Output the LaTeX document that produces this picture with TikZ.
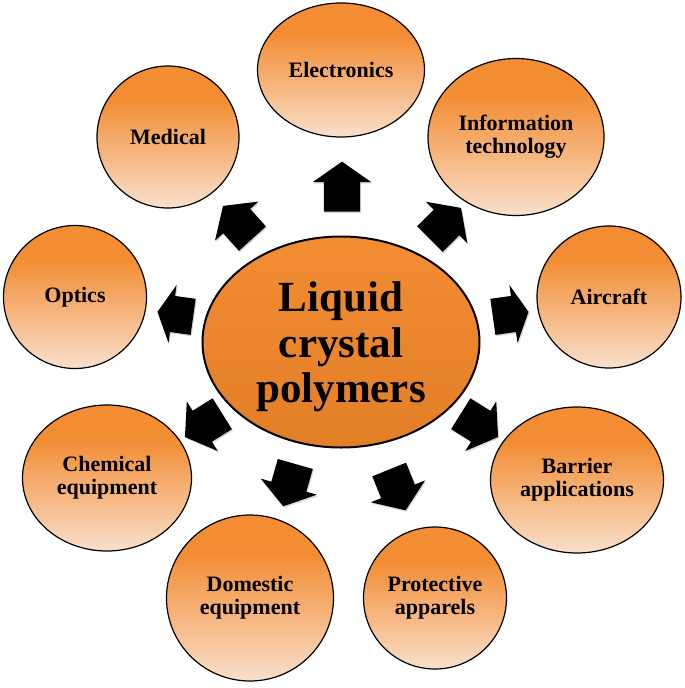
\documentclass[tikz,border=0pt]{standalone}
\usepackage{fontspec}
\setmainfont{Liberation Serif}
\usetikzlibrary{shapes.geometric,shapes.arrows,shadows}

\definecolor{lcporange}{RGB}{242,141,52}
\definecolor{lcpdark}{RGB}{226,126,38}
\definecolor{petalmid}{RGB}{246,180,124}
\definecolor{petallow}{RGB}{249,224,204}

% top to bottom fade of the outer bubbles (path spans 25bp..75bp)
\pgfdeclareverticalshading{petal}{100bp}{color(0bp)=(petallow); color(25bp)=(petallow); color(45bp)=(petalmid); color(63bp)=(lcporange); color(75bp)=(lcporange); color(100bp)=(lcporange)}

\begin{document}
\begin{tikzpicture}[x=1pt,y=-1pt]
\tikzstyle{every node}=[inner sep=0pt]
\tikzstyle{petal}=[ellipse, draw=black, line width=1.2pt, shade, shading=petal,
  align=center, font=\fontsize{22}{23}\selectfont\bfseries]
\tikzstyle{blockarrow}=[single arrow, fill=black, inner xsep=0pt, inner ysep=18pt,
  minimum height=44, single arrow head extend=11, single arrow tip angle=110,
  drop shadow={shadow xshift=1pt, shadow yshift=-1.5pt, opacity=0.3}]

\useasboundingbox (0,0) rectangle (685,688);

%
% The centre
%
\node[ellipse, draw=black, line width=2pt, minimum width=277, minimum height=211,
  top color=lcporange, middle color=lcporange, bottom color=lcpdark]
  (lcp) at (341,342) {};
\node[align=center, font=\fontsize{43}{45.5}\selectfont\bfseries]
  (lcptext) at ([yshift=-5]lcp.center) {Liquid\\crystal\\polymers};

%
% The applications, clockwise from the top
%
\node[petal, minimum width=167, minimum height=134] (elec) at (341,70) {Electronics};
\node[petal, minimum width=176, minimum height=157] (info) at (516,137) {Information\\technology};
\node[petal, minimum width=144, minimum height=142] (air) at (609,297) {Aircraft};
\node[petal, minimum width=173, minimum height=146] (barrier) at (577,480) {Barrier\\applications};
\node[petal, minimum width=143, minimum height=142] (prot) at (435,598) {Protective\\apparels};
\node[petal, minimum width=167, minimum height=166] (dom) at (250,598) {Domestic\\equipment};
\node[petal, minimum width=169, minimum height=146] (chem) at (107,478) {Chemical\\equipment};
\node[petal, minimum width=143, minimum height=143] (optics) at (75,297) {Optics};
\node[petal, minimum width=142, minimum height=142] (med) at (168,137) {Medical};

%
% The block arrows pointing outwards
%
\node[blockarrow, minimum height=50, rotate=90] (toelec) at (342,193) {};
\node[blockarrow, rotate=45] (toinfo) at (441,228) {};
\node[blockarrow, minimum height=36, single arrow tip angle=125, rotate=8] (toair) at (506,315) {};
\node[blockarrow, rotate=-32] (tobarrier) at (474,422) {};
\node[blockarrow, rotate=-68] (toprot) at (395,484) {};
\node[blockarrow, rotate=-106] (todom) at (291,479) {};
\node[blockarrow, rotate=212] (tochem) at (209,422) {};
\node[blockarrow, minimum height=36, single arrow tip angle=125, rotate=172] (tooptics) at (180,315) {};
\node[blockarrow, rotate=132] (tomed) at (242,227) {};

\end{tikzpicture}
\end{document}
